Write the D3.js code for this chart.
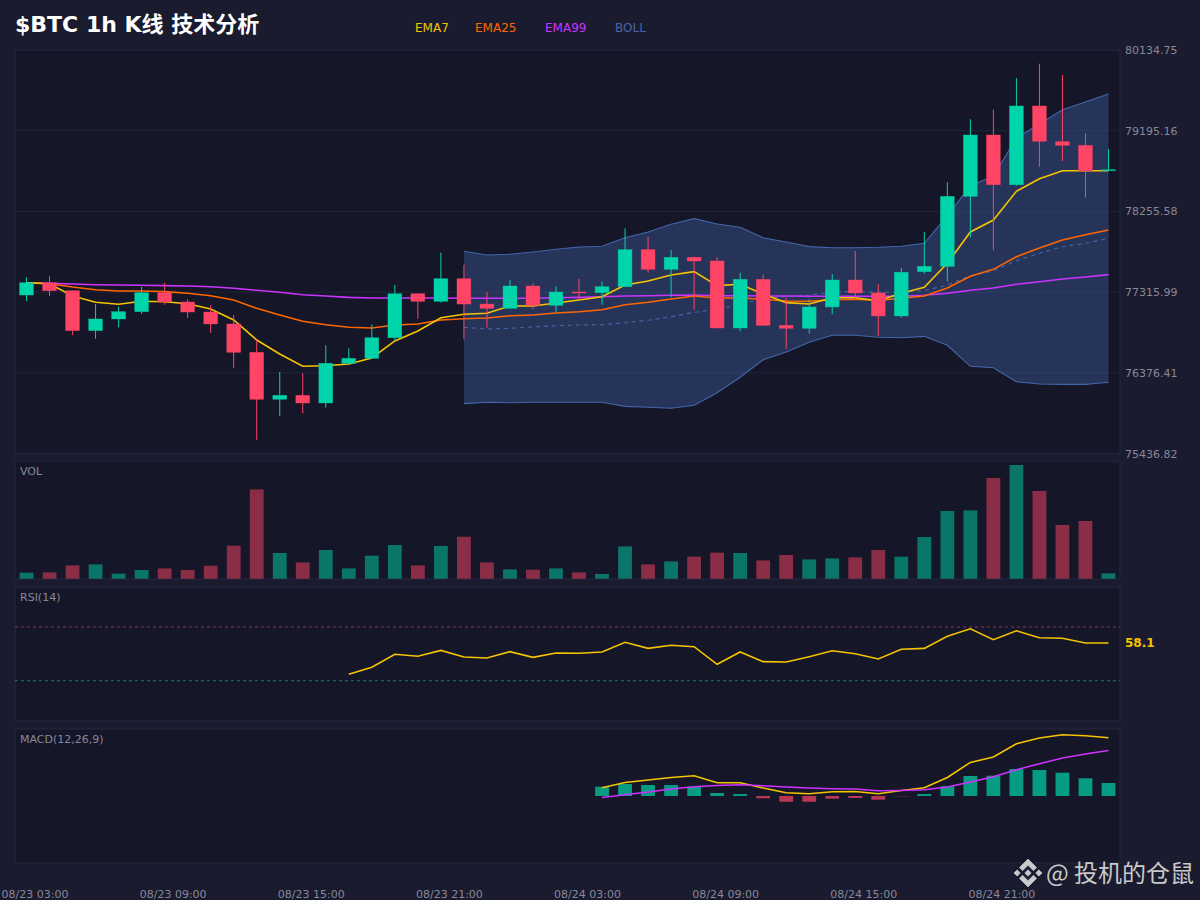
<!DOCTYPE html>
<html>
<head>
<meta charset="utf-8">
<script src="https://d3js.org/d3.v7.min.js"></script>
<style>
  html, body { margin: 0; padding: 0; background: #1a1b2e; }
  svg { display: block; }
  text { font-family: "DejaVu Sans", "Noto Sans CJK SC", sans-serif; }
</style>
</head>
<body>
<div id="chart-area"></div>
<script>
// candles, 1h
var opens = [77282,77425,77332,76867,77003,77088,77309,77201,77084,76945,76615,76068,76114,76025,76487,76545,76785,77297,77209,77472,77177,77127,77387,77162,77317,77309,77379,77810,77581,77721,77678,76898,77465,76929,76894,77143,77457,77306,77038,77554,77616,78431,79145,78566,79483,79067,79025,78729];
var highs = [77488,77503,77332,77177,77146,77379,77425,77232,77162,77049,76758,76386,76371,76697,76662,76941,77399,77302,77775,77635,77317,77457,77418,77384,77469,77442,78059,77961,77806,77728,77721,77542,77519,77251,77232,77527,77795,77407,77600,78016,78594,79328,79440,79809,79975,79844,79165,78982];
var lows = [77212,77271,76817,76773,76906,77061,77169,77014,76843,76429,75594,75873,75905,75970,76475,76545,76747,77006,77193,76766,76902,77127,77119,77076,77224,77169,77379,77542,77255,77108,76894,76860,76921,76654,76832,77058,77244,76805,77018,77530,77437,77954,77803,78555,78776,78842,78415,78726];
var closes = [77425,77332,76867,77003,77088,77309,77201,77084,76945,76615,76068,76114,76025,76487,76545,76785,77297,77209,77472,77177,77127,77387,77162,77317,77309,77379,77810,77581,77721,77678,76898,77465,76929,76894,77143,77457,77306,77038,77547,77616,78431,79145,78566,79483,79072,79025,78726,78741];

var ema7 = [77425,77414,77271,77197,77174,77209,77204,77181,77119,76991,76758,76595,76452,76459,76479,76549,76747,76863,77018,77058,77069,77154,77154,77189,77224,77262,77399,77445,77515,77554,77391,77407,77294,77193,77177,77251,77251,77216,77302,77372,77651,78016,78155,78490,78636,78729,78729,78729];
var ema25 = [77425,77414,77375,77344,77329,77329,77321,77302,77274,77224,77127,77049,76976,76936,76906,76898,76933,76945,76991,77006,77014,77041,77049,77073,77088,77111,77169,77197,77236,77271,77247,77247,77232,77212,77209,77227,77232,77220,77244,77271,77364,77500,77581,77728,77829,77923,77984,78039];
var ema99 = [77425,77418,77410,77402,77399,77395,77391,77387,77379,77360,77337,77314,77286,77271,77255,77247,77247,77247,77247,77244,77244,77244,77244,77251,77255,77262,77271,77274,77279,77282,77274,77274,77271,77271,77267,77267,77267,77267,77267,77279,77302,77337,77364,77407,77437,77469,77492,77519];

// bollinger starts at candle 19
var bollStart = 19;
var bollUpper = [77791,77748,77756,77783,77814,77841,77849,77949,78016,78105,78171,78109,78071,77949,77899,77845,77833,77833,77838,77849,77884,78206,78551,78668,79107,79273,79440,79529,79622];
var bollMid = [76906,76886,76895,76910,76925,76933,76936,76960,76988,77030,77081,77116,77174,77239,77262,77282,77317,77325,77314,77314,77332,77399,77507,77562,77682,77768,77845,77884,77942];
var bollLower = [76017,76033,76028,76033,76033,76033,76033,75986,75975,75963,75998,76145,76324,76529,76619,76731,76813,76813,76790,76785,76801,76697,76452,76436,76273,76246,76242,76242,76266];

var volumes = [60,63,133,143,50,87,103,87,130,330,893,257,163,287,103,230,337,133,327,420,163,93,90,103,63,47,323,143,173,220,260,257,183,237,193,203,213,287,220,417,677,683,1007,1137,877,537,577,53];

var rsiStart = 14;
var rsi = [34.8,40,49.7,48.2,52.6,47.7,46.9,51.6,47.4,50.6,50.4,51.4,58.6,54.1,56.4,55.3,42.2,51.4,44.2,43.9,47.9,52.3,50.1,46.2,53.4,54.1,63.1,68.7,60.5,67.2,62,61.6,58.1,58.1];

var macdStart = 25;
var macd = [58,95,112,130,142,93,93,56,23,16,30,32,16,39,58,130,235,273,366,406,429,422,408];
var signal = [-10,9,28,49,65,74,79,72,63,56,51,49,37,39,44,63,98,135,184,226,266,294,319];
var hist = [65,84,77,77,65,21,14,-16,-40,-40,-19,-14,-26,-2,14,68,140,142,189,182,163,124,91];

var priceTicks = [80134.75,79195.16,78255.58,77315.99,76376.41,75436.82];
var timeTicks = [0,6,12,18,24,30,36,42];
var timeLabels = ["08/23 03:00","08/23 09:00","08/23 15:00","08/23 21:00","08/24 03:00","08/24 09:00","08/24 15:00","08/24 21:00"];
var legendNames = ["EMA7","EMA25","EMA99","BOLL"];

var width = 1200, height = 900;
var left = 15, right = 1120;
var green = "#00d4aa", red = "#ff4466";
var yellow = "#f5c400", orange = "#ff6600", purple = "#cc33ff", blue = "#4466aa";
var textColor = "#888899";
var lineWidth = 1.6;

var svg = d3.select("#chart-area").append("svg")
    .attr("width", width)
    .attr("height", height);

svg.append("rect")
    .attr("width", width)
    .attr("height", height)
    .attr("fill", "#1a1b2e");

var xScale = d3.scaleBand()
    .domain(d3.range(opens.length))
    .range([left, right])
    .paddingInner(0.4)
    .paddingOuter(0.2);
var bw = xScale.bandwidth();

function cx(i) {
    return xScale(i) + bw / 2;
}

var yPrice = d3.scaleLinear().domain([75436.82, 80134.75]).range([453.5, 50]);
var yVol = d3.scaleLinear().domain([0, 1140]).range([578.7, 464.7]);
var yRsi = d3.scaleLinear().domain([0, 100]).range([721, 586.7]);
var yMacd = d3.scaleLinear().domain([-469, 469]).range([863, 729]);

// panel backgrounds
var panels = [[50, 453.5], [461, 579], [587, 721], [729, 863]];
svg.selectAll("rect.panel").data(panels).enter().append("rect")
    .attr("class", "panel")
    .attr("x", left)
    .attr("y", function(d) { return d[0]; })
    .attr("width", right - left)
    .attr("height", function(d) { return d[1] - d[0]; })
    .attr("fill", "#151628")
    .attr("stroke", "#262740")
    .attr("stroke-width", 1);

// price grid and labels
svg.selectAll("line.grid").data(priceTicks.slice(1, 5)).enter().append("line")
    .attr("class", "grid")
    .attr("x1", left)
    .attr("x2", right)
    .attr("y1", function(d) { return yPrice(d); })
    .attr("y2", function(d) { return yPrice(d); })
    .attr("stroke", "#222338")
    .attr("stroke-width", 1);

var priceAxis = svg.append("g")
    .attr("transform", "translate(" + right + ",0)")
    .call(d3.axisRight(yPrice).tickValues(priceTicks).tickFormat(d3.format(".2f")).tickSize(0).tickPadding(5));
priceAxis.select(".domain").remove();
priceAxis.selectAll("text").attr("fill", textColor).style("font-size", "11px");

var timeAxis = svg.append("g")
    .attr("transform", "translate(8.5,884)")
    .call(d3.axisBottom(xScale).tickValues(timeTicks).tickFormat(function(d, i) { return timeLabels[i]; }).tickSize(0).tickPadding(6));
timeAxis.select(".domain").remove();
timeAxis.selectAll("text").attr("fill", textColor).style("font-size", "11px");

// bollinger band
var bollIdx = d3.range(bollUpper.length);
var bandArea = d3.area()
    .x(function(k) { return cx(k + bollStart); })
    .y0(function(k) { return yPrice(bollLower[k]); })
    .y1(function(k) { return yPrice(bollUpper[k]); });

svg.append("path")
    .attr("d", bandArea(bollIdx))
    .attr("fill", blue)
    .attr("fill-opacity", 0.38);

function priceLine(values, start) {
    return d3.line()
        .x(function(d, k) { return cx(k + start); })
        .y(function(d) { return yPrice(d); })(values);
}

svg.append("path").attr("d", priceLine(bollUpper, bollStart)).attr("fill", "none").attr("stroke", blue).attr("stroke-width", 1.1);
svg.append("path").attr("d", priceLine(bollLower, bollStart)).attr("fill", "none").attr("stroke", blue).attr("stroke-width", 1.1);
svg.append("path").attr("d", priceLine(bollMid, bollStart)).attr("fill", "none").attr("stroke", blue).attr("stroke-width", 1.1).attr("stroke-dasharray", "4,4");

svg.append("path").attr("d", priceLine(ema99, 0)).attr("fill", "none").attr("stroke", purple).attr("stroke-width", lineWidth);
svg.append("path").attr("d", priceLine(ema25, 0)).attr("fill", "none").attr("stroke", orange).attr("stroke-width", lineWidth);
svg.append("path").attr("d", priceLine(ema7, 0)).attr("fill", "none").attr("stroke", yellow).attr("stroke-width", lineWidth);

// candles
var idx = d3.range(opens.length);
function candleColor(i) {
    return closes[i] >= opens[i] ? green : red;
}

svg.selectAll("line.wick").data(idx).enter().append("line")
    .attr("class", "wick")
    .attr("x1", cx)
    .attr("x2", cx)
    .attr("y1", function(i) { return yPrice(highs[i]); })
    .attr("y2", function(i) { return yPrice(lows[i]); })
    .attr("stroke", candleColor)
    .attr("stroke-width", 1);

svg.selectAll("rect.body").data(idx).enter().append("rect")
    .attr("class", "body")
    .attr("x", function(i) { return xScale(i); })
    .attr("y", function(i) { return yPrice(Math.max(opens[i], closes[i])); })
    .attr("width", bw)
    .attr("height", function(i) { return Math.max(1, Math.abs(yPrice(opens[i]) - yPrice(closes[i]))); })
    .attr("fill", candleColor)
    .attr("stroke", candleColor)
    .attr("stroke-width", 0.6)
    .attr("stroke-opacity", 0.6);

// volume
svg.selectAll("rect.vol").data(volumes).enter().append("rect")
    .attr("class", "vol")
    .attr("x", function(d, i) { return xScale(i); })
    .attr("y", function(d) { return yVol(d); })
    .attr("width", bw)
    .attr("height", function(d) { return yVol(0) - yVol(d); })
    .attr("fill", function(d, i) { return candleColor(i); })
    .attr("fill-opacity", 0.5);

// rsi
var rsiLevels = [[70, red], [30, green]];
svg.selectAll("line.level").data(rsiLevels).enter().append("line")
    .attr("class", "level")
    .attr("x1", left)
    .attr("x2", right)
    .attr("y1", function(d) { return yRsi(d[0]); })
    .attr("y2", function(d) { return yRsi(d[0]); })
    .attr("stroke", function(d) { return d[1]; })
    .attr("stroke-opacity", 0.55)
    .attr("stroke-dasharray", "3,3");

svg.append("path")
    .attr("d", d3.line()
        .x(function(d, k) { return cx(k + rsiStart); })
        .y(function(d) { return yRsi(d); })(rsi))
    .attr("fill", "none")
    .attr("stroke", yellow)
    .attr("stroke-width", lineWidth);

svg.append("text")
    .attr("x", 1125)
    .attr("y", yRsi(rsi[rsi.length - 1]) + 4.5)
    .attr("fill", yellow)
    .style("font-size", "12px")
    .style("font-weight", "bold")
    .text(d3.format(".1f")(rsi[rsi.length - 1]));

// macd
svg.selectAll("rect.hist").data(hist).enter().append("rect")
    .attr("class", "hist")
    .attr("x", function(d, k) { return xScale(k + macdStart); })
    .attr("y", function(d) { return yMacd(Math.max(d, 0)); })
    .attr("width", bw)
    .attr("height", function(d) { return Math.abs(yMacd(d) - yMacd(0)); })
    .attr("fill", function(d) { return d >= 0 ? green : red; })
    .attr("fill-opacity", 0.7);

function macdLine(values) {
    return d3.line()
        .x(function(d, k) { return cx(k + macdStart); })
        .y(function(d) { return yMacd(d); })(values);
}
svg.append("path").attr("d", macdLine(macd)).attr("fill", "none").attr("stroke", yellow).attr("stroke-width", lineWidth);
svg.append("path").attr("d", macdLine(signal)).attr("fill", "none").attr("stroke", purple).attr("stroke-width", lineWidth);

// panel names
var panelNames = [["VOL", 475], ["RSI(14)", 601], ["MACD(12,26,9)", 743]];
svg.selectAll("text.name").data(panelNames).enter().append("text")
    .attr("class", "name")
    .attr("x", 20)
    .attr("y", function(d) { return d[1]; })
    .attr("fill", textColor)
    .style("font-size", "11px")
    .text(function(d) { return d[0]; });

// title and legend
svg.append("text")
    .attr("x", 15)
    .attr("y", 32)
    .attr("fill", "#ffffff")
    .style("font-size", "22px")
    .style("font-weight", "bold")
    .text("$BTC 1h K线 技术分析");

var legendX = [415, 475, 545, 615];
var legendColors = [yellow, orange, purple, blue];
svg.selectAll("text.legend").data(legendNames).enter().append("text")
    .attr("class", "legend")
    .attr("x", function(d, i) { return legendX[i]; })
    .attr("y", 32)
    .attr("fill", function(d, i) { return legendColors[i]; })
    .style("font-size", "12px")
    .text(function(d) { return d; });

// watermark
var mark = svg.append("g").attr("opacity", 0.9);
mark.append("path")
    .attr("transform", "translate(1014,859) scale(0.221)")
    .attr("fill", "#dddddd")
    .attr("stroke", "#dddddd")
    .attr("stroke-width", 3)
    .attr("d", "m38.73 53.2 24.59-24.58 24.6 24.6 14.3-14.31L63.32 0 24.43 38.9z M0 63.31l14.3-14.31 14.31 14.31-14.31 14.3z M38.73 73.41 63.32 98l24.6-24.6 14.31 14.29-38.9 38.91-38.9-38.88z M98 63.31l14.3-14.31 14.31 14.3-14.31 14.32z M77.83 63.3 63.32 48.78 52.59 59.51l-1.24 1.23-2.54 2.54 14.51 14.5 14.51-14.47z");
mark.append("text")
    .attr("x", 1046)
    .attr("y", 882)
    .attr("fill", "#dddddd")
    .style("font-size", "24px")
    .style("font-family", "'Noto Sans CJK SC'")
    .text("@ 投机的仓鼠");
</script>
</body>
</html>
